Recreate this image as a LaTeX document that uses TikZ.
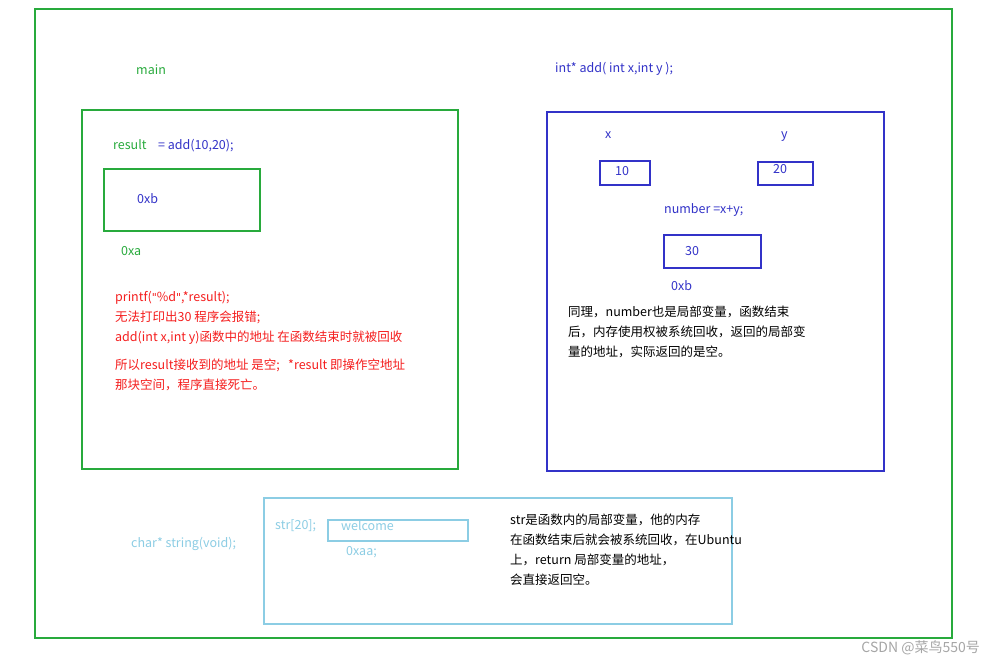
\documentclass[tikz,border=0pt]{standalone}
\usepackage{fontspec}
\setmainfont{Noto Sans CJK SC}
\newfontfamily\latinfont{DejaVu Sans}
\definecolor{gframe}{RGB}{40,170,60}
\definecolor{bframe}{RGB}{50,50,200}
\definecolor{rtext}{RGB}{245,30,30}
\definecolor{cframe}{RGB}{140,205,228}
\newcommand{\dq}{{\latinfont\fontsize{11}{20}\selectfont\symbol{"22}}}
\tikzset{
  txt/.style={anchor=west, inner sep=0pt, font=\fontsize{12.5}{20}\selectfont, align=left},
  cell/.style={draw, line width=1.2pt},
}
\begin{document}
\begin{tikzpicture}[x=1pt, y=-1pt]
        \useasboundingbox[fill=white] (0,0) rectangle (996,666);
        % Outer frame
        \draw[gframe, line width=1.2pt] (35,9) rectangle (952,638);
        \node[txt, gframe] (main) at (136,70) {main};
        \node[txt, bframe] (sig) at (555,69) {int* add( int x,int y );};

        % main function frame
        \draw[gframe, line width=1.2pt] (82,110) rectangle (458,469);
        \node[txt, gframe] (res) at (113,145) {result};
        \node[txt, bframe] (call) at (158,146) {= add(10,20);};
        \draw[cell, gframe] (104,169) rectangle (260,231);
        \node[txt, bframe] (vb) at (137,199) {0xb};
        \node[txt, gframe] (va) at (121,251) {0xa};
        \node[txt, rtext] (note1) at (115,318) {printf(\dq\%d\dq,*result);\\无法打印出30 程序会报错;\\add(int x,int y)函数中的地址 在函数结束时就被回收};
        \node[txt, rtext] (note2) at (115,375) {所以result接收到的地址 是空;\ \ \ *result 即操作空地址\\那块空间，程序直接死亡。};

        % add function frame
        \draw[bframe, line width=1.2pt] (547,112) rectangle (884,471);
        \node[txt, bframe] (lx) at (605,135) {x};
        \node[txt, bframe] (ly) at (781,137) {y};
        \draw[cell, bframe] (600,161) rectangle (650,185);
        \node[txt, bframe] (v10) at (615,171) {10};
        \draw[cell, bframe] (758,162) rectangle (813,185);
        \node[txt, bframe] (v20) at (773,169) {20};
        \node[txt, bframe] (sum) at (664,210) {number =x+y;};
        \draw[cell, bframe] (664,235) rectangle (761,268);
        \node[txt, bframe] (v30) at (685,251) {30};
        \node[txt, bframe] (vxb) at (671,286) {0xb};
        \node[txt, black] (note3) at (568,332) {同理，number也是局部变量，函数结束\\后，内存使用权被系统回收，返回的局部变\\量的地址，实际返回的是空。};

        % string function frame
        \node[txt, cframe] (csig) at (131,544) {char* string(void);};
        \draw[cframe, line width=1.2pt] (264,498) rectangle (732,624);
        \node[txt, cframe] (str) at (275,526) {str[20];};
        \draw[cell, cframe] (328,520) rectangle (468,541);
        \node[txt, cframe] (wel) at (341,526) {welcome};
        \node[txt, cframe] (vaa) at (346,552) {0xaa;};
        \node[txt, black] (note4) at (510,550) {str是函数内的局部变量，他的内存\\在函数结束后就会被系统回收，在Ubuntu\\上，return 局部变量的地址，\\会直接返回空。};

        % watermark
        \node[anchor=east, inner sep=0pt, gray!70, font=\fontsize{14}{16}\selectfont] (wm) at (980,648) {CSDN @菜鸟550号};
\end{tikzpicture}
\end{document}
